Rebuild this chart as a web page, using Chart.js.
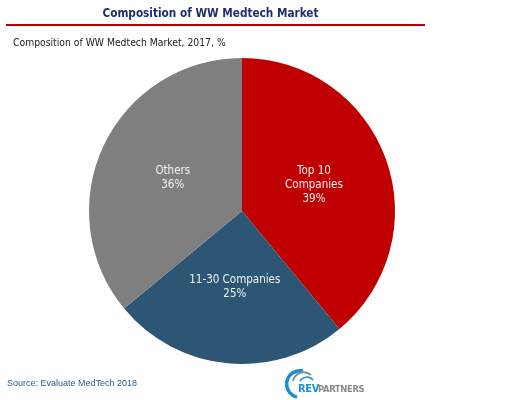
<!DOCTYPE html>
<html>
<head>
<meta charset="utf-8">
<script src="https://cdn.jsdelivr.net/npm/chart.js"></script>
<style>
body{margin:0;background:#fff;width:519px;height:400px;overflow:hidden;position:relative;font-family:"Liberation Sans",Arial,sans-serif;}
#wrap{position:absolute;left:0;top:0;width:519px;height:400px;}
.title{position:absolute;left:0;width:421px;top:6px;text-align:center;color:#1f2f6b;font-weight:bold;font-size:11.7px;font-family:"DejaVu Sans Condensed",sans-serif;}
.rule{position:absolute;left:6px;top:24px;width:419px;height:2px;background:#c00000;}
.sub{position:absolute;left:13px;top:36px;color:#222;font-size:10.3px;font-family:"DejaVu Sans Condensed",sans-serif;}
.src{position:absolute;left:7px;top:378px;color:#2a5c8f;font-size:9px;}
.logo{position:absolute;left:285px;top:368px;}
.logo span{position:absolute;top:14px;font-size:11px;font-weight:bold;white-space:nowrap;font-family:"DejaVu Sans Condensed",sans-serif;letter-spacing:-0.3px;}
</style>
</head>
<body>
<div id="wrap"><canvas id="chart" width="519" height="400"></canvas></div>
<div class="title">Composition of WW Medtech Market</div>
<div class="rule"></div>
<div class="sub">Composition of WW Medtech Market, 2017, %</div>
<div class="src">Source: Evaluate MedTech 2018</div>
<div class="logo">
  <svg width="32" height="32" style="position:absolute;left:0;top:0">
    <path d="M18 3 A13 13 0 0 0 12 29" fill="none" stroke="#1a8fd1" stroke-width="3.5"/>
    <path d="M26 7 A11 11 0 0 0 8 13" fill="none" stroke="#8a8a8a" stroke-width="2"/>
    <path d="M28 12 A8 8 0 0 0 15 13" fill="none" stroke="#1a8fd1" stroke-width="1.5"/>
  </svg>
  <span style="left:13px;color:#1a8fd1">REV</span>
  <span style="left:33px;color:#8a8a8a;font-size:9.3px;top:15px">PARTNERS</span>
</div>
<script>
const labels = [["Top 10", "Companies"], ["11-30 Companies"], ["Others"]];
const values = [39, 25, 36];
const colors = ['#c00000', '#2c5674', '#7f7f7f'];

// draws the labels inside each slice
const sliceLabels = {
    id: 'sliceLabels',
    afterDatasetsDraw(chart) {
        const ctx = chart.ctx;
        const meta = chart.getDatasetMeta(0);
        ctx.save();
        ctx.font = '11.5px "DejaVu Sans Condensed", "Liberation Sans", sans-serif';
        ctx.textAlign = 'center';
        ctx.textBaseline = 'middle';
        ctx.fillStyle = '#f2f2f2';
        meta.data.forEach((arc, i) => {
            const p = arc.tooltipPosition();
            const lines = labels[i].concat([values[i] + '%']);
            const lh = 14;
            const y0 = p.y - (lines.length - 1) * lh / 2;
            lines.forEach((t, j) => ctx.fillText(t, p.x, y0 + j * lh));
        });
        ctx.restore();
    }
};

new Chart(document.getElementById('chart'), {
    type: 'pie',
    data: {
        labels: labels.map(l => l.join(' ')),
        datasets: [{
            data: values,
            backgroundColor: colors,
            borderWidth: 0
        }]
    },
    options: {
        responsive: false,
        animation: false,
        layout: { padding: { left: 89, right: 124, top: 58, bottom: 36 } },
        plugins: {
            legend: { display: false },
            tooltip: { enabled: false }
        }
    },
    plugins: [sliceLabels]
});
</script>
</body>
</html>
